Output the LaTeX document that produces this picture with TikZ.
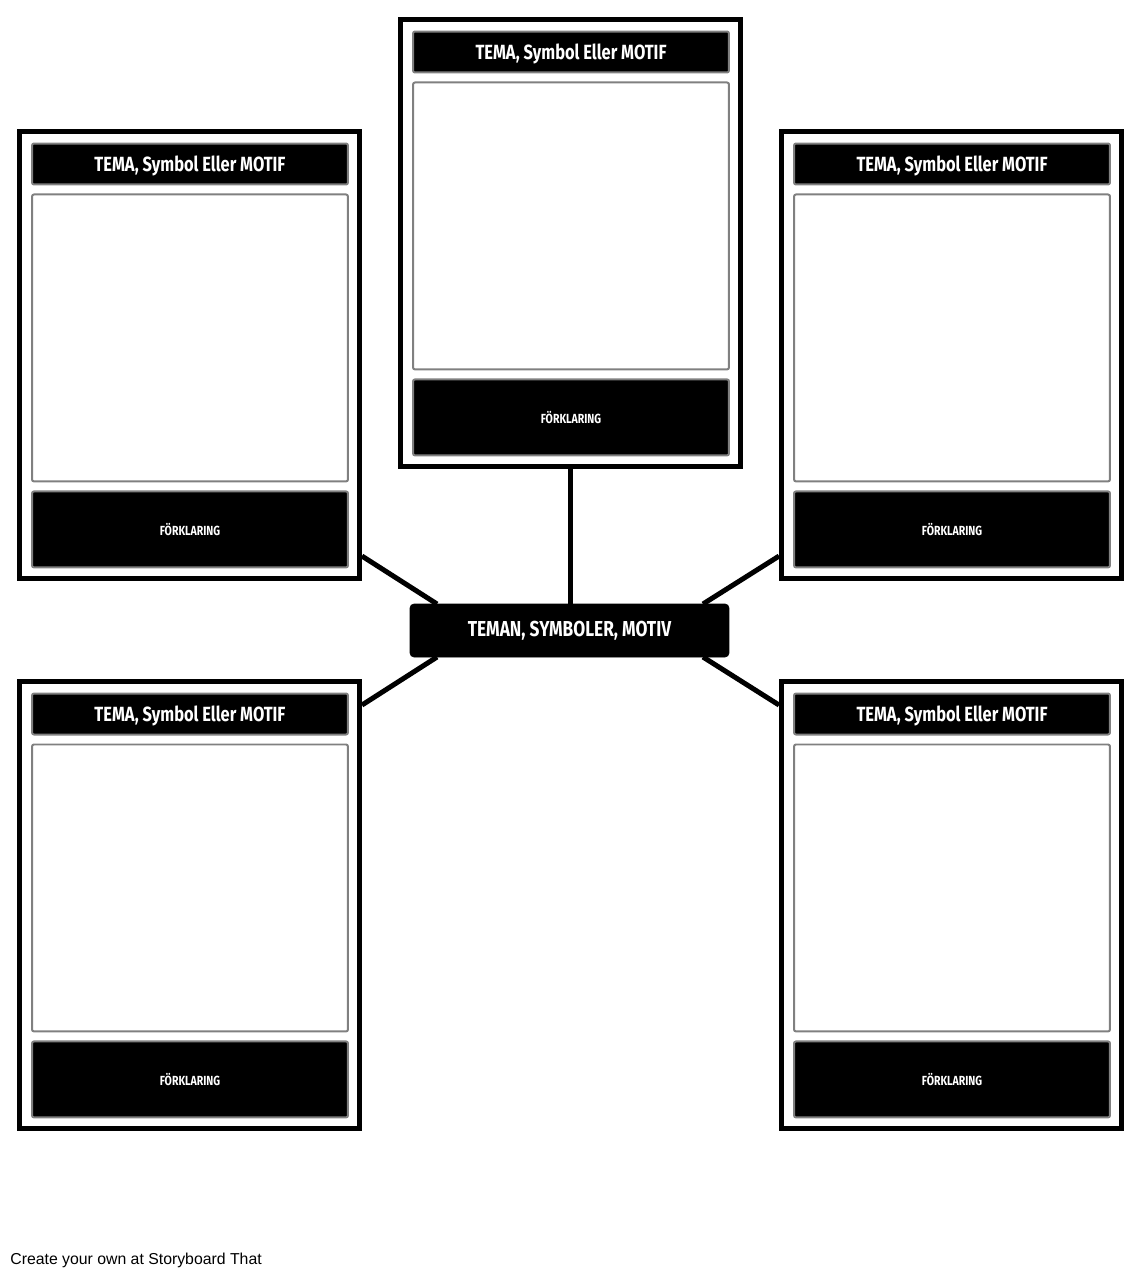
\documentclass[tikz,border=0pt]{standalone}
\usepackage{fontspec}
\setmainfont{Liberation Sans}
\newfontfamily\headfont[FakeStretch=0.8]{Fira Sans}
\usetikzlibrary{positioning,calc}

\tikzset{
  frame/.style={draw=black, line width=0.1cm, fill=white, minimum width=6.8cm, minimum height=8.94cm, inner sep=0pt},
  headbox/.style={draw=gray, line width=0.04cm, fill=black, rounded corners=0.04cm, minimum width=6.32cm, minimum height=0.82cm,
    text=white, font=\headfont\bfseries\fontsize{11.7}{13}\selectfont},
  imgbox/.style={draw=gray, line width=0.04cm, fill=white, rounded corners=0.04cm, minimum width=6.32cm, minimum height=5.74cm},
  explbox/.style={draw=gray, line width=0.04cm, fill=black, rounded corners=0.04cm, minimum width=6.32cm, minimum height=1.52cm,
    text=white, font=\headfont\bfseries\fontsize{7.5}{9}\selectfont},
  hub/.style={draw=black, fill=black, rounded corners=0.08cm, minimum width=6.38cm, minimum height=1.06cm, outer sep=0pt,
    text=white, font=\headfont\bfseries\fontsize{12.3}{14}\selectfont},
  link/.style={line width=0.1cm, black},
  node distance=0.16cm
}

\begin{document}
\begin{tikzpicture}[x=0.02cm,y=-0.02cm]
\useasboundingbox (0,0) rectangle (1143,1278);
% five cards
\foreach \n/\px/\py in {top/398/17, lu/17/129, ru/779/129, ll/17/679, rl/779/679}{
  \node[frame] (\n) at (\px+172.5,\py+226) {};
  \node[headbox, anchor=north, text depth=0.02cm] (\n-head) at (\px+173,\py+13.5) {TEMA, Symbol Eller MOTIF};
  \node[imgbox, below=0.16cm of \n-head] (\n-img) {};
  \node[explbox, below=of \n-img] (\n-expl) {FÖRKLARING};
}
\node[hub] (hub) at (569.5,630.5) {TEMAN, SYMBOLER, MOTIV};
% connectors
\draw[link] (top.south) -- (top.south |- hub.north);
\draw[link] ($(lu.north east)+(0,427)$) -- ($(hub.north west)+(27,0)$);
\draw[link] ($(ru.north west)+(0,427)$) -- ($(hub.north east)+(-26,0)$);
\draw[link] ($(ll.north east)+(0,26)$) -- ($(hub.south west)+(27,0)$);
\draw[link] ($(rl.north west)+(0,26)$) -- ($(hub.south east)+(-26,0)$);
\node[anchor=base west, inner sep=0pt, font=\fontsize{9}{11}\selectfont] (credit) at (10,1264) {Create your own at Storyboard That};
\end{tikzpicture}
\end{document}
